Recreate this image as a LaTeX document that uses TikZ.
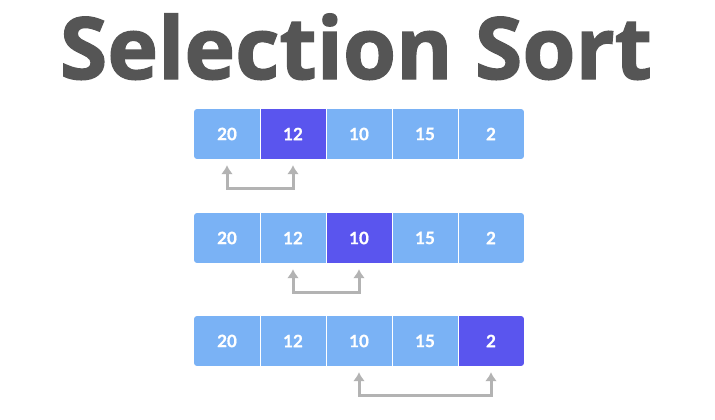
\documentclass[tikz,border=0pt]{standalone}
\usepackage{fontspec}
\setmainfont{Open Sans}[BoldFeatures={FakeBold=1.6}]
\newfontfamily\latofont{Lato}[BoldFeatures={FakeBold=0.8}]
\usetikzlibrary{arrows.meta,positioning}
\definecolor{cellblue}{HTML}{7AB2F5}
\definecolor{cellpick}{HTML}{5A55EE}
\definecolor{titlegray}{HTML}{555555}
\definecolor{swapgray}{HTML}{B3B3B3}
\tikzset{%
	cell/.style     = {rectangle, fill=cellblue, minimum width=66pt, minimum height=50pt, inner sep=0pt, text=white, font=\latofont\bfseries\fontsize{17}{17}\selectfont},
	pick/.style     = {cell, fill=cellpick}, % current minimum
	swapline/.style = {swapgray, line width=3pt, {Latex[length=9pt,width=12pt]}-{Latex[length=9pt,width=12pt]}},
}

\begin{document}
\begin{tikzpicture}[x=1pt,y=-1pt,node distance=66pt]
	\useasboundingbox (0,0) rectangle (715,420);
	\node[text=titlegray, anchor=base, font=\bfseries\fontsize{86}{86}\selectfont] (title) at (356,79) {Selection Sort};
	\foreach \r/\y/\p in {1/134/2, 2/238/3, 3/341/5} {
		\begin{scope}
			\clip[rounded corners=3pt] (194,\y-25) rectangle (524,\y+25);
			\node[cell] (r\r c1) at (227,\y) {20};
			\foreach \v [count=\c from 2, remember=\c as \b (initially 1)] in {12,10,15,2} {
				\ifnum\c=\p \def\sty{pick}\else \def\sty{cell}\fi
				\node[\sty] (r\r c\c) [right of=r\r c\b] {\v};
			}
			\foreach \c in {1,...,4}
				\draw[white, line width=1pt] (r\r c\c.north east) -- (r\r c\c.south east);
		\end{scope}
	}
	\draw[swapline] ([yshift=-6pt]r1c1.south) -- ++(0,23) -| ([yshift=-6pt]r1c2.south);
	\draw[swapline] ([yshift=-6pt]r2c2.south) -- ++(0,23) -| ([yshift=-6pt]r2c3.south);
	\draw[swapline] ([yshift=-6pt]r3c3.south) -- ++(0,23) -| ([yshift=-6pt]r3c5.south);
\end{tikzpicture}
\end{document}
